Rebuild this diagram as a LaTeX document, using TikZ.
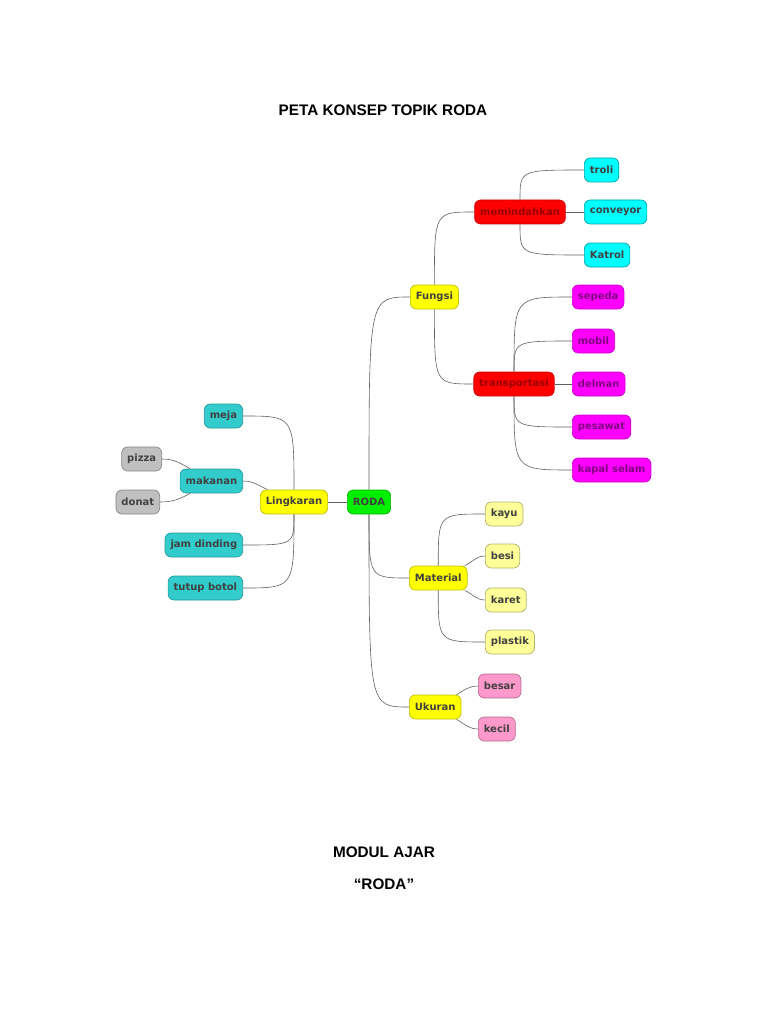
\documentclass[tikz,border=0pt]{standalone}
\usepackage{fontspec}
\setmainfont{Liberation Sans}
\newfontfamily\mapfont{DejaVu Sans}
\usetikzlibrary{positioning}
\definecolor{txtgrey}{HTML}{404040}
\definecolor{linegrey}{HTML}{606060}
\definecolor{rodagreen}{HTML}{00F000}
\definecolor{kuning}{HTML}{FFFF00}
\definecolor{kuningmuda}{HTML}{FFFF99}
\definecolor{tosca}{HTML}{33CCCC}
\definecolor{sian}{HTML}{00FFFF}
\definecolor{abu}{HTML}{C0C0C0}
\definecolor{merah}{HTML}{FF0000}
\definecolor{ungu}{HTML}{FF00FF}
\definecolor{merahmuda}{HTML}{FF99CC}

\begin{document}
\begin{tikzpicture}[x=1pt, y=1pt,
  box/.style = {draw, rounded corners=6pt, minimum height=24pt,
    inner xsep=5.5pt, inner ysep=2pt, line width=0.7pt, text=txtgrey,
    font=\mapfont\bfseries\fontsize{10}{12}\selectfont},
  root/.style = {box, fill=rodagreen, draw=rodagreen!75!black},
  topic/.style = {box, fill=kuning, draw=kuning!75!black},
  sub/.style = {box, fill=merah, draw=merah!80!black, text=merah!60!black},
  leaf/.style = {box, fill=tosca, draw=tosca!75!black},
  food/.style = {box, fill=abu, draw=abu!70!black},
  alat/.style = {box, fill=sian, draw=sian!65!black},
  kendaraan/.style = {box, fill=ungu, draw=ungu!80!black, text=ungu!50!black},
  bahan/.style = {box, fill=kuningmuda, draw=kuningmuda!70!black},
  ukur/.style = {box, fill=merahmuda, draw=merahmuda!70!black},
  heading/.style = {font=\bfseries\fontsize{15.3}{18}\selectfont},
  link/.style = {draw=linegrey, line width=0.6pt},
  branch/.style = {to path={.. controls (\tikztostart |- \tikztotarget) .. (\tikztotarget)}}]

\useasboundingbox (0,0) rectangle (768,-1024);

% judul
\node (title) [heading] at (383,-110) {PETA KONSEP TOPIK RODA};
\node (modul) [heading] at (384,-852) {MODUL AJAR};
\node (nama) [heading] at (384,-884) {“RODA”};

% pusat
\node (roda) [root] at (369,-502) {RODA};

% kiri
\node (ling) [topic] at (294,-502) {Lingkaran};
\node (meja) [leaf, anchor=east] at (243,-416) {meja};
\node (makanan) [leaf, anchor=east] at (243,-481) {makanan};
\node (pizza) [food, anchor=east] at (162,-459) {pizza};
\node (donat) [food, anchor=east] at (160,-502) {donat};
\node (jam) [leaf, anchor=east] at (243,-545) {jam dinding};
\node (tutup) [leaf, anchor=east] at (243,-588) {tutup botol};

% fungsi
\node (fungsi) [topic, anchor=west] at (410,-297) {Fungsi};
\node (pindah) [sub] at (520,-212) {memindahkan};
\node (troli) [alat, anchor=west] at (584,-170) {troli};
\node (conveyor) [alat, anchor=west] at (584,-212) {conveyor};
\node (katrol) [alat, anchor=west] at (584,-255) {Katrol};
\node (transport) [sub] at (514,-384) {transportasi};
\node (sepeda) [kendaraan, anchor=west] at (572,-297) {sepeda};
\node (mobil) [kendaraan, anchor=west] at (572,-341) {mobil};
\node (delman) [kendaraan, anchor=west] at (572,-384) {delman};
\node (pesawat) [kendaraan, anchor=west] at (572,-427) {pesawat};
\node (kapal) [kendaraan, anchor=west] at (572,-470) {kapal selam};

% material dan ukuran
\node (material) [topic, anchor=west] at (409,-578) {Material};
\node (kayu) [bahan, anchor=west] at (485,-514) {kayu};
\node (besi) [bahan, anchor=west] at (485,-556) {besi};
\node (karet) [bahan, anchor=west] at (485,-600) {karet};
\node (plastik) [bahan, anchor=west] at (485,-642) {plastik};
\node (ukuran) [topic, anchor=west] at (409,-707) {Ukuran};
\node (besar) [ukur, anchor=west] at (478,-686) {besar};
\node (kecil) [ukur, anchor=west] at (478,-729) {kecil};

\path [link]
  (roda) edge (ling)
  (roda) edge [branch] (fungsi)
  (roda) edge [branch] (material)
  (roda) edge [branch] (ukuran)
  (ling) edge [branch] (meja)
  (ling) edge [out=155, in=0] (makanan)
  (ling) edge [branch] (jam)
  (ling) edge [branch] (tutup)
  (makanan) edge [out=150, in=0] (pizza)
  (makanan) edge [out=210, in=0] (donat)
  (fungsi) edge [branch] (pindah)
  (fungsi) edge [branch] (transport)
  (pindah) edge [branch] (troli)
  (pindah) edge (conveyor)
  (pindah) edge [branch] (katrol)
  (transport) edge [branch] (sepeda)
  (transport) edge [branch] (mobil)
  (transport) edge (delman)
  (transport) edge [branch] (pesawat)
  (transport) edge [branch] (kapal)
  (material) edge [branch] (kayu)
  (material) edge [out=25, in=180] (besi)
  (material) edge [out=-25, in=180] (karet)
  (material) edge [branch] (plastik)
  (ukuran) edge [out=30, in=180] (besar)
  (ukuran) edge [out=-30, in=180] (kecil);
\end{tikzpicture}
\end{document}
